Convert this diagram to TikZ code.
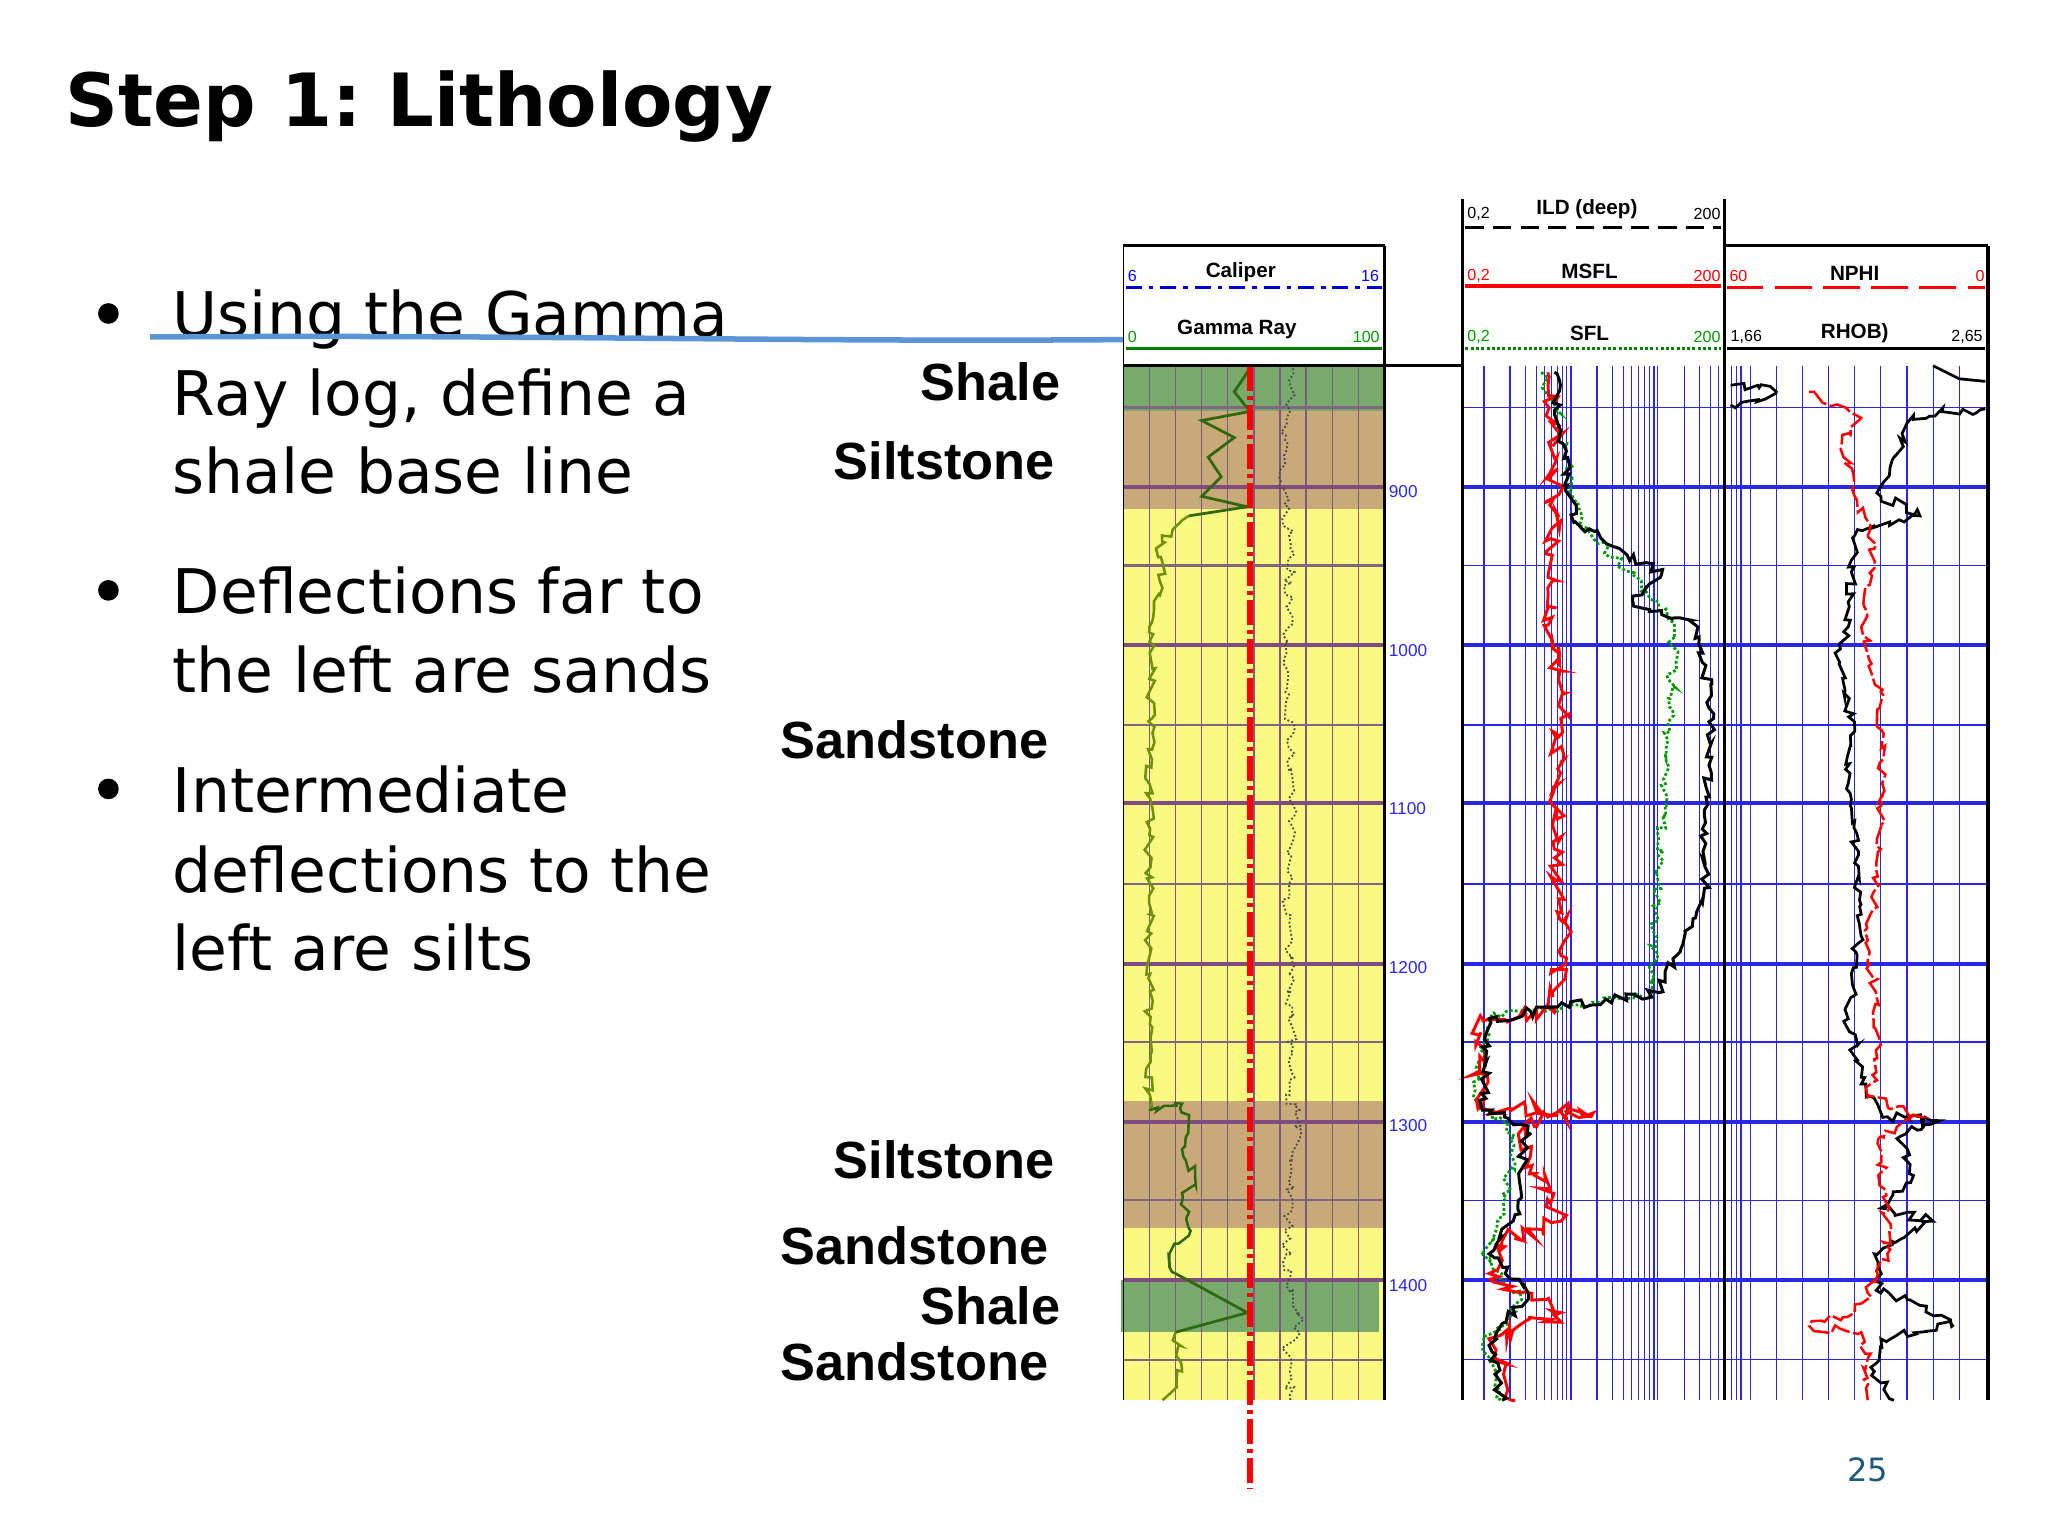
\documentclass[tikz,border=0pt]{standalone}
\usepackage{fontspec}
\setmainfont{DejaVu Sans}
\newfontfamily\arialb{Liberation Sans}[BoldFont=* Bold]
\usetikzlibrary{decorations.pathmorphing}
\definecolor{shalegreen}{RGB}{120,170,110}
\definecolor{siltbrown}{RGB}{200,170,120}
\definecolor{sandyellow}{RGB}{250,250,130}
\definecolor{grline}{RGB}{60,130,20}
\definecolor{depthblue}{RGB}{40,40,230}
\definecolor{gridblue}{RGB}{40,40,230}
\definecolor{slideline}{RGB}{90,150,215}
\definecolor{teal25}{RGB}{30,90,120}
\tikzset{
  bullettext/.style={anchor=base west,inner sep=0pt,font=\fontsize{26.8}{26.8}\selectfont},
  litho/.style={anchor=base east,inner sep=0pt,font=\arialb\bfseries\fontsize{22.8}{22.8}\selectfont},
  hdr/.style={inner sep=0pt,font=\arialb\bfseries\fontsize{9}{9}\selectfont},
  scl/.style={inner sep=0pt,font=\arialb\fontsize{7}{7}\selectfont},
  depth/.style={anchor=west,inner sep=0pt,text=depthblue,font=\arialb\fontsize{7.5}{7.5}\selectfont},
  border/.style={line width=1.4pt,black},
  jag/.style={decorate,decoration={random steps,segment length=2.5pt,amplitude=2.2pt}},
  jagbig/.style={decorate,decoration={random steps,segment length=2.2pt,amplitude=4pt}},
}
\begin{document}
\begin{tikzpicture}[x=0.02cm,y=-0.02cm]
\pgfmathsetseed{7}
\useasboundingbox (0,0) rectangle (1568,1176);
% title
\node[anchor=base west,inner sep=0pt,font=\bfseries\fontsize{32}{32}\selectfont] (title) at (50,97) {Step 1:\hspace{-0.12em} Lithology};
% bullets
\foreach \y/\nm in {258/b1,470/b2,622/b3}{\node[inner sep=0pt,circle,fill=black,minimum size=9pt] (\nm) at (83,\y-18) {};}
\node[bullettext] (t1) at (132,258) {Using the Gamma};
\node[bullettext] (t2) at (132,318) {Ray log, define a};
\node[bullettext] (t3) at (132,378) {shale base line};
\node[bullettext] (t4) at (132,470) {Deflections far to};
\node[bullettext] (t5) at (132,530) {the left are sands};
\node[bullettext] (t6) at (132,622) {Intermediate};
\node[bullettext] (t7) at (132,683) {deflections to the};
\node[bullettext] (t8) at (132,743) {left are silts};
\coordinate (ls) at (115,258); \coordinate (le) at (860,260);
\draw[slideline,line width=2.4pt] (ls) .. controls (400,256) and (600,262) .. (le);
% litho labels
\node[litho] (l1) at (812,307) {Shale};
\node[litho] (l2) at (808,367) {Siltstone};
\node[litho] (l3) at (803,581) {Sandstone};
\node[litho] (l4) at (808,902) {Siltstone};
\node[litho] (l5) at (803,968) {Sandstone};
\node[litho] (l6) at (812,1014) {Shale};
\node[litho] (l7) at (803,1057) {Sandstone};
% ---- track 1
\fill[sandyellow] (860,280) rectangle (1060,1072);
\fill[shalegreen] (860,280) rectangle (1060,315);
\fill[siltbrown] (860,315) rectangle (1060,390);
\fill[siltbrown] (860,843) rectangle (1060,940);
\fill[shalegreen] (858,980) rectangle (1056,1020);
\foreach \x in {880,900,...,1040} \draw[gray!70!violet,line width=0.6pt] (\x,280) -- (\x,1072);
\foreach \y in {312,433,555,677,798,919,1041} \draw[gray!80!violet,line width=1pt] (860,\y) -- (1060,\y);
\foreach \y in {373,494,615,738,859,980} \draw[gray!60!violet,line width=1.8pt] (860,\y) -- (1060,\y);
\foreach \y/\d in {376/900,498/1000,619/1100,741/1200,862/1300,984/1400} \node[depth] (d\d) at (1063,\y) {\d};
% caliper dotted
\draw[gray!60!black,densely dotted,line width=0.8pt,jag] (990,282) -- (985,320) -- (980,360) -- (988,420) -- (985,500) -- (990,600) -- (985,700) -- (990,800) -- (985,845) -- (995,850) -- (988,900) -- (985,960) -- (990,1000) -- (998,1010) -- (985,1030) -- (988,1072);
% GR
\draw[grline!80!black,line width=1.2pt] (957,282) -- (945,300) -- (957,315) -- (920,322) -- (945,335) -- (925,350) -- (935,365) -- (920,380) -- (955,388) -- (910,395);
\draw[grline!60!yellow!80!black,line width=1.1pt,jag] (910,395) -- (885,420) -- (890,450) -- (880,480) -- (882,550) -- (880,600) -- (880,700) -- (880,850);
\draw[grline!80!black,line width=1.1pt,jag] (880,850) -- (905,845) -- (910,860) -- (905,880) -- (915,900) -- (905,920) -- (910,940) -- (895,965) -- (900,975);
\draw[grline!80!black,line width=1.2pt] (900,975) -- (955,1005) -- (900,1020);
\draw[grline!60!yellow!80!black,line width=1.1pt,jag] (900,1020) -- (905,1050) -- (890,1072);
% baseline (red dash-dot)
\coordinate (rt) at (957,280); \coordinate (rb) at (957,1140);
\draw[red,line width=2.4pt,dash pattern=on 11pt off 2pt on 2pt off 2pt] (rt) -- (rb);
% track 1 header
\draw[border] (860,188) -- (1060,188);
\draw[border] (1060,188) -- (1060,1072);
\draw[line width=0.5pt] (860,188) -- (860,1072);
\node[hdr] (cal) at (950,208) {Caliper};
\node[scl,text=blue] (c6) at (867,211) {6};
\node[scl,text=blue] (c16) at (1049,211) {16};
\draw[blue!80!black,line width=1.3pt,dash pattern=on 7pt off 3pt on 2pt off 3pt] (862,220) -- (1058,220);
\node[hdr] (gr) at (947,252) {Gamma Ray};
\node[scl,text=green!60!black] (g0) at (867,258) {0};
\node[scl,text=green!60!black] (g100) at (1046,258) {100};
\draw[green!50!black,line width=1.5pt] (862,267) -- (1058,267);
\draw[line width=1.1pt] (860,280) -- (1120,280);
% ---- track 2
\foreach \y in {312,433,555,677,798,919,1041} \draw[gridblue,line width=0.7pt] (1120,\y) -- (1522,\y);
\foreach \y in {373,494,615,738,859,980} \draw[gridblue,line width=1.8pt] (1120,\y) -- (1522,\y);
\foreach \d in {0,1,2}{\foreach \m in {2,...,9}{\pgfmathsetmacro{\xx}{1136+66.67*(\d+log10(\m))}\draw[gridblue,line width=0.5pt] (\xx,280) -- (\xx,1072);}}
\foreach \x in {1136,1203,1269} \draw[gridblue,line width=0.8pt] (\x,280) -- (\x,1072);
\foreach \x in {1340,1360,...,1500} \draw[gridblue,line width=0.5pt] (\x,280) -- (\x,1072);
% SFL green dotted
\draw[green!60!black,densely dotted,line width=1.2pt,jag] (1180,285) -- (1195,330) -- (1210,400) -- (1250,440) -- (1282,480) -- (1275,600) -- (1268,700) -- (1265,760) -- (1140,780) -- (1128,840) -- (1160,870) -- (1150,930) -- (1135,960) -- (1165,995) -- (1135,1030) -- (1150,1072);
% MSFL red
\draw[red,line width=1.3pt,jagbig] (1185,285) -- (1192,350) -- (1185,450) -- (1195,550) -- (1190,650) -- (1198,720) -- (1190,775) -- (1135,780) -- (1130,800) -- (1135,845) -- (1220,852) -- (1168,860) -- (1175,900) -- (1195,935) -- (1150,950) -- (1140,975) -- (1195,1005) -- (1140,1025) -- (1160,1072);
% ILD black
\draw[black,line width=1.3pt,jag] (1190,285) -- (1195,330) -- (1205,400) -- (1240,420) -- (1272,440) -- (1250,460) -- (1300,480) -- (1312,550) -- (1305,620) -- (1305,680) -- (1270,760) -- (1140,780) -- (1135,850) -- (1170,862) -- (1160,930) -- (1140,960) -- (1170,990) -- (1140,1030) -- (1150,1072);
% track 2 header
\draw[border] (1120,152) -- (1120,1072);
\draw[border] (1320,152) -- (1320,1072);
\node[hdr] (ild) at (1215,160) {ILD (deep)};
\node[scl] (i02) at (1132,164) {0,2};
\node[scl] (i200) at (1307,164) {200};
\draw[line width=1.3pt,dash pattern=on 8pt off 4pt] (1122,174) -- (1318,174);
\node[hdr] (msfl) at (1217,208) {MSFL};
\node[scl,text=red] (m02) at (1132,211) {0,2};
\node[scl,text=red] (m200) at (1307,211) {200};
\draw[red,line width=1.6pt] (1122,219) -- (1318,219);
\node[hdr] (sfl) at (1217,255) {SFL};
\node[scl,text=green!60!black] (s02) at (1132,258) {0,2};
\node[scl,text=green!60!black] (s200) at (1307,258) {200};
\draw[green!50!black,line width=1.3pt,densely dotted] (1122,267) -- (1318,267);
% ---- track 3
\draw[black,line width=1.2pt,jag] (1325,295) -- (1360,300) -- (1325,310);
\draw[black,line width=1.2pt] (1480,280) -- (1500,290) -- (1520,292);
\draw[black,line width=1.2pt,jag] (1520,313) -- (1465,318) -- (1450,350) -- (1440,380) -- (1470,395) -- (1420,410) -- (1415,480) -- (1405,500) -- (1420,560) -- (1415,600) -- (1425,700) -- (1415,780) -- (1425,830) -- (1445,855) -- (1485,858) -- (1455,870) -- (1465,900) -- (1440,925) -- (1480,935) -- (1435,960) -- (1440,990) -- (1475,1000) -- (1495,1015) -- (1440,1025) -- (1435,1050) -- (1450,1072);
\draw[red,line width=1.1pt,jag,dash pattern=on 10pt off 1.5pt] (1385,300) -- (1400,310) -- (1425,320) -- (1410,340) -- (1420,380) -- (1435,420) -- (1425,480) -- (1440,530) -- (1440,650) -- (1430,720) -- (1440,800) -- (1430,840) -- (1470,855) -- (1440,870) -- (1445,960) -- (1430,990) -- (1420,1005) -- (1385,1015) -- (1425,1020) -- (1430,1040) -- (1430,1072);
\draw[border] (1320,188) -- (1522,188);
\draw[border] (1522,188) -- (1522,1072);
\node[hdr] (nphi) at (1420,209) {NPHI};
\node[scl,text=red] (n60) at (1331,211) {60};
\node[scl,text=red] (n0) at (1516,211) {0};
\draw[red,line width=1.6pt,dash pattern=on 16pt off 5pt] (1322,220) -- (1520,220);
\node[hdr] (rhob) at (1420,255) {RHOB)};
\node[scl] (r166) at (1337,258) {1,66};
\node[scl] (r265) at (1506,258) {2,65};
\draw[line width=1.3pt] (1322,267) -- (1520,267);
% page number
\node[inner sep=0pt,text=teal25,font=\fontsize{14}{14}\selectfont] (pg) at (1430,1125) {25};
\end{tikzpicture}
\end{document}
